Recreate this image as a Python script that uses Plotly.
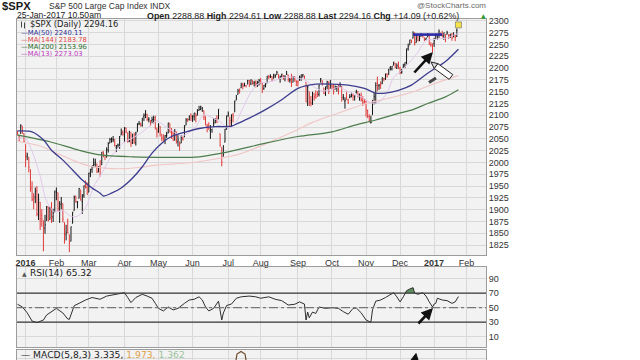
import plotly.graph_objects as go
import pandas as pd

# ------------------------------------------------------------------ data
holidays = ["2015-12-25", "2016-01-01", "2016-01-18", "2016-02-15", "2016-03-25",
            "2016-05-30", "2016-07-04", "2016-09-05", "2016-11-24", "2016-12-26",
            "2017-01-02", "2017-01-16", "2017-02-20"]
dates = [d.strftime("%Y-%m-%d") for d in pd.bdate_range("2015-12-24", "2017-01-25")
         if d.strftime("%Y-%m-%d") not in holidays]

opens = [2063, 2058, 2061, 2077, 2061,
         2038, 2013, 2011, 1985, 1946, 1926, 1927, 1940, 1892, 1916, 1888, 1877, 1861, 1877, 1906, 1879, 1903, 1885, 1895,
         1937, 1936, 1907, 1911, 1913, 1873, 1848, 1857, 1847, 1833, 1871, 1898, 1928, 1916, 1924, 1942, 1917, 1931, 1954, 1947,
         1937, 1976, 1985, 1995, 1996, 1997, 1981, 1991, 1995, 2019, 2015, 2015, 2027, 2041, 2048, 2048, 2049, 2032, 2037, 2035, 2058, 2064,
         2056, 2073, 2063, 2045, 2064, 2045, 2050, 2042, 2065, 2082, 2083, 2078, 2097, 2100, 2102, 2091, 2089, 2089, 2092, 2091, 2071,
         2068, 2077, 2060, 2053, 2047, 2057, 2062, 2083, 2068, 2062, 2047, 2065, 2044, 2044, 2041, 2052, 2054, 2079, 2091, 2091, 2101,
         2093, 2097, 2104, 2100, 2110, 2112, 2115, 2110, 2091, 2077, 2078, 2067, 2070, 2076, 2085, 2089, 2092, 2061, 2032, 2013, 2043, 2073,
         2099, 2096, 2084, 2101, 2107, 2132, 2144, 2156, 2158, 2165, 2163, 2163, 2166, 2173, 2167, 2173, 2168, 2170, 2167, 2169,
         2173, 2169, 2156, 2163, 2168, 2183, 2182, 2182, 2178, 2183, 2186, 2187, 2177, 2181, 2184, 2181, 2187, 2185, 2174, 2175, 2170, 2179, 2173,
         2171, 2177, 2181, 2185, 2183, 2170, 2121, 2150, 2128, 2124, 2146, 2143, 2145, 2144, 2170, 2173, 2158, 2147, 2161, 2169, 2157,
         2164, 2163, 2155, 2158, 2164, 2160, 2161, 2137, 2130, 2139, 2132, 2138, 2140, 2142, 2139, 2149, 2150, 2136, 2142, 2131, 2129,
         2129, 2110, 2098, 2084, 2101, 2129, 2131, 2168, 2163, 2166, 2168, 2177, 2178, 2187, 2186, 2201, 2198, 2206, 2210, 2200, 2205,
         2200, 2191, 2201, 2207, 2211, 2241, 2249, 2259, 2263, 2269, 2254, 2266, 2260, 2267, 2271, 2264, 2261, 2266, 2270, 2250, 2251,
         2252, 2262, 2269, 2272, 2274, 2269, 2268, 2271, 2272, 2269, 2270, 2272, 2269, 2268, 2267, 2289]

highs = [2067, 2058, 2081, 2077, 2062,
         2038, 2021, 2011, 1985, 1960, 1935, 1947, 1950, 1934, 1916, 1901, 1877, 1889, 1908, 1906, 1906, 1916, 1902, 1940,
         1947, 1936, 1918, 1927, 1913, 1873, 1868, 1881, 1847, 1864, 1895, 1930, 1930, 1918, 1946, 1942, 1933, 1951, 1962, 1958,
         1978, 1986, 1993, 2009, 2008, 1997, 1992, 2005, 2022, 2024, 2016, 2032, 2043, 2052, 2053, 2056, 2049, 2037, 2040, 2056, 2072, 2068,
         2075, 2074, 2063, 2067, 2064, 2061, 2063, 2065, 2083, 2088, 2084, 2094, 2104, 2111, 2103, 2096, 2089, 2097, 2099, 2099, 2074,
         2083, 2077, 2060, 2060, 2058, 2065, 2084, 2083, 2073, 2067, 2071, 2065, 2060, 2044, 2058, 2055, 2079, 2094, 2094, 2099, 2104,
         2100, 2105, 2104, 2113, 2120, 2120, 2117, 2110, 2098, 2082, 2085, 2079, 2070, 2094, 2094, 2100, 2113, 2061, 2032, 2036, 2071, 2099,
         2108, 2096, 2102, 2105, 2131, 2143, 2156, 2156, 2169, 2169, 2169, 2164, 2175, 2175, 2176, 2174, 2173, 2174, 2173, 2177,
         2179, 2170, 2164, 2168, 2183, 2185, 2187, 2183, 2188, 2187, 2194, 2187, 2184, 2188, 2185, 2185, 2194, 2186, 2179, 2188, 2183, 2183, 2174,
         2174, 2184, 2186, 2187, 2184, 2170, 2163, 2150, 2141, 2150, 2146, 2153, 2151, 2165, 2179, 2174, 2158, 2161, 2173, 2172, 2175,
         2165, 2166, 2163, 2162, 2165, 2170, 2162, 2145, 2138, 2150, 2135, 2145, 2148, 2147, 2142, 2154, 2151, 2146, 2148, 2141, 2134,
         2131, 2112, 2102, 2099, 2132, 2147, 2170, 2182, 2166, 2172, 2180, 2179, 2188, 2189, 2198, 2204, 2204, 2213, 2211, 2210, 2214,
         2203, 2198, 2209, 2212, 2241, 2252, 2260, 2260, 2278, 2276, 2272, 2268, 2268, 2274, 2272, 2265, 2264, 2274, 2272, 2255, 2252,
         2264, 2273, 2271, 2282, 2275, 2279, 2275, 2271, 2279, 2272, 2272, 2274, 2276, 2271, 2284, 2295]

lows = [2058, 2044, 2061, 2061, 2043,
        1990, 2005, 1979, 1938, 1918, 1901, 1914, 1886, 1878, 1857, 1864, 1812, 1849, 1877, 1875, 1879, 1872, 1874, 1895,
        1920, 1897, 1872, 1901, 1873, 1828, 1835, 1850, 1810, 1833, 1871, 1898, 1915, 1903, 1924, 1919, 1891, 1925, 1945, 1932,
        1937, 1969, 1978, 1990, 1990, 1978, 1979, 1970, 1995, 2011, 2005, 2010, 2021, 2041, 2042, 2043, 2034, 2022, 2031, 2029, 2058, 2057,
        2043, 2062, 2042, 2043, 2033, 2039, 2040, 2036, 2065, 2079, 2076, 2076, 2088, 2094, 2088, 2085, 2077, 2083, 2083, 2070, 2053,
        2063, 2055, 2045, 2045, 2039, 2052, 2062, 2064, 2050, 2046, 2047, 2040, 2034, 2025, 2041, 2047, 2054, 2079, 2086, 2089, 2088,
        2086, 2089, 2085, 2100, 2110, 2111, 2107, 2090, 2079, 2064, 2069, 2050, 2063, 2076, 2083, 2084, 2092, 2033, 1992, 2013, 2043, 2069,
        2097, 2075, 2075, 2085, 2107, 2132, 2144, 2146, 2158, 2155, 2161, 2159, 2166, 2160, 2164, 2165, 2161, 2159, 2160, 2163,
        2166, 2147, 2154, 2159, 2168, 2177, 2179, 2172, 2178, 2179, 2186, 2178, 2169, 2181, 2175, 2172, 2186, 2171, 2169, 2160, 2170, 2171, 2162,
        2161, 2173, 2173, 2180, 2177, 2128, 2120, 2120, 2119, 2122, 2131, 2135, 2139, 2140, 2170, 2163, 2145, 2141, 2155, 2145, 2157,
        2155, 2144, 2155, 2150, 2144, 2160, 2129, 2132, 2114, 2133, 2124, 2136, 2138, 2131, 2131, 2146, 2138, 2131, 2129, 2120, 2125,
        2097, 2094, 2085, 2083, 2101, 2123, 2125, 2151, 2154, 2156, 2166, 2172, 2175, 2180, 2186, 2195, 2195, 2206, 2200, 2198, 2198,
        2187, 2188, 2201, 2200, 2208, 2237, 2249, 2253, 2263, 2248, 2254, 2257, 2257, 2267, 2265, 2257, 2259, 2266, 2249, 2245, 2234,
        2245, 2262, 2260, 2264, 2268, 2265, 2260, 2255, 2271, 2262, 2264, 2258, 2265, 2257, 2266, 2289]

closes = [2061, 2056, 2078, 2063, 2044,
          2012, 2016, 1990, 1943, 1922, 1923, 1938, 1890, 1921, 1880, 1881, 1859, 1868, 1906, 1877, 1903, 1882, 1893, 1940,
          1939, 1903, 1912, 1915, 1880, 1853, 1852, 1851, 1829, 1864, 1895, 1926, 1917, 1917, 1945, 1921, 1929, 1951, 1948, 1932,
          1978, 1986, 1993, 1999, 2001, 1979, 1989, 1989, 2022, 2019, 2015, 2027, 2040, 2049, 2051, 2049, 2036, 2036, 2037, 2055, 2063, 2060,
          2073, 2066, 2045, 2066, 2041, 2047, 2041, 2062, 2082, 2082, 2081, 2094, 2100, 2102, 2091, 2092, 2088, 2091, 2095, 2075, 2065,
          2081, 2064, 2051, 2050, 2057, 2058, 2084, 2064, 2064, 2047, 2066, 2047, 2048, 2040, 2052, 2048, 2076, 2090, 2090, 2099, 2097,
          2099, 2105, 2099, 2110, 2112, 2119, 2116, 2096, 2079, 2075, 2072, 2077, 2071, 2083, 2089, 2085, 2113, 2037, 2001, 2036, 2071, 2099,
          2103, 2089, 2100, 2098, 2130, 2137, 2152, 2152, 2164, 2162, 2166, 2163, 2174, 2165, 2175, 2169, 2170, 2167, 2170, 2174,
          2171, 2157, 2164, 2164, 2183, 2181, 2182, 2175, 2186, 2184, 2191, 2179, 2182, 2187, 2184, 2182, 2187, 2176, 2175, 2169, 2180, 2176, 2171,
          2171, 2180, 2186, 2186, 2182, 2128, 2160, 2127, 2126, 2147, 2139, 2139, 2140, 2164, 2177, 2165, 2146, 2159, 2171, 2151, 2168,
          2161, 2150, 2160, 2160, 2154, 2164, 2137, 2139, 2132, 2133, 2127, 2140, 2144, 2141, 2141, 2151, 2143, 2139, 2133, 2126, 2126,
          2111, 2097, 2088, 2085, 2132, 2140, 2163, 2167, 2164, 2165, 2180, 2177, 2188, 2182, 2198, 2203, 2204, 2213, 2202, 2205, 2199,
          2191, 2192, 2204, 2212, 2241, 2246, 2260, 2256, 2272, 2253, 2262, 2258, 2263, 2271, 2266, 2261, 2264, 2268, 2250, 2249, 2239,
          2258, 2271, 2270, 2277, 2269, 2269, 2275, 2271, 2275, 2268, 2272, 2264, 2271, 2265, 2280, 2294]

assert len(dates) == len(opens) == len(highs) == len(lows) == len(closes), (len(dates), len(opens), len(highs), len(lows), len(closes))

ma50_dates = ["2015-12-24", "2016-01-08", "2016-01-20", "2016-01-27", "2016-02-05", "2016-02-16", "2016-02-24",
              "2016-03-03", "2016-03-10", "2016-03-14", "2016-03-21", "2016-03-30", "2016-04-08", "2016-04-18",
              "2016-04-26", "2016-05-04", "2016-05-12", "2016-05-25", "2016-06-07", "2016-06-21", "2016-07-06",
              "2016-07-12", "2016-07-21", "2016-08-04", "2016-08-18", "2016-09-01", "2016-09-19", "2016-10-03",
              "2016-10-17", "2016-10-31", "2016-11-09", "2016-11-17", "2016-11-30", "2016-12-12", "2016-12-27",
              "2017-01-12", "2017-01-25"]
ma50_vals = [2067, 2065, 2048, 2026, 2005, 1984, 1963, 1946, 1935, 1929, 1935, 1946, 1967, 1991, 2020, 2041,
             2055, 2065, 2072, 2076, 2077, 2083, 2094, 2112, 2133, 2157, 2166, 2166, 2164, 2157, 2147, 2147,
             2153, 2164, 2189, 2214, 2240]

ma144_dates = ["2015-12-24", "2016-01-15", "2016-02-01", "2016-02-16", "2016-03-01", "2016-03-15", "2016-04-01",
               "2016-04-15", "2016-05-02", "2016-05-16", "2016-06-01", "2016-06-15", "2016-07-01", "2016-07-15",
               "2016-08-01", "2016-08-15", "2016-09-01", "2016-09-15", "2016-10-03", "2016-10-17", "2016-11-01",
               "2016-11-15", "2016-12-01", "2016-12-15", "2017-01-03", "2017-01-25"]
ma144_vals = [2045, 2035, 2020, 2005, 1993, 1988, 1987, 1990, 1995, 1997, 2000, 2005, 2012, 2020, 2035, 2050,
              2070, 2085, 2100, 2112, 2125, 2133, 2142, 2152, 2167, 2184]

ma200_dates = ["2015-12-24", "2016-01-26", "2016-02-22", "2016-03-10", "2016-04-08", "2016-05-10", "2016-06-07",
               "2016-07-06", "2016-08-04", "2016-09-01", "2016-10-03", "2016-10-21", "2016-11-09", "2016-11-30",
               "2016-12-12", "2016-12-27", "2017-01-12", "2017-01-25"]
ma200_vals = [2058, 2044, 2026, 2016, 2012, 2011, 2012, 2024, 2041, 2055, 2065, 2079, 2090, 2104, 2111, 2125,
              2139, 2154]

ma13_dates = ["2015-12-24", "2015-12-31", "2016-01-08", "2016-01-15", "2016-01-22", "2016-01-29", "2016-02-05",
              "2016-02-12", "2016-02-19", "2016-02-26", "2016-03-04", "2016-03-11", "2016-03-18", "2016-03-31",
              "2016-04-08", "2016-04-15", "2016-04-22", "2016-04-29", "2016-05-06", "2016-05-13", "2016-05-20",
              "2016-05-27", "2016-06-03", "2016-06-10", "2016-06-17", "2016-06-24", "2016-07-01", "2016-07-08",
              "2016-07-15", "2016-07-22", "2016-07-29", "2016-08-05", "2016-08-12", "2016-08-19", "2016-08-26",
              "2016-09-02", "2016-09-09", "2016-09-16", "2016-09-23", "2016-09-30", "2016-10-07", "2016-10-14",
              "2016-10-21", "2016-10-28", "2016-11-04", "2016-11-11", "2016-11-18", "2016-11-25", "2016-12-02",
              "2016-12-09", "2016-12-16", "2016-12-23", "2016-12-30", "2017-01-06", "2017-01-13", "2017-01-20",
              "2017-01-25"]
ma13_vals = [2048, 2055, 2024, 1971, 1918, 1895, 1898, 1886, 1886, 1904, 1949, 1977, 2008, 2041, 2052, 2062,
             2076, 2088, 2077, 2066, 2056, 2064, 2076, 2101, 2095, 2086, 2072, 2081, 2115, 2149, 2168, 2170,
             2174, 2180, 2181, 2178, 2174, 2160, 2152, 2153, 2160, 2152, 2144, 2138, 2126, 2128, 2148, 2180,
             2195, 2213, 2234, 2259, 2260, 2262, 2264, 2270, 2273]

rsi_dates = ["2015-12-24", "2015-12-30", "2016-01-05", "2016-01-08", "2016-01-13", "2016-01-20", "2016-01-22",
             "2016-01-27", "2016-02-01", "2016-02-05", "2016-02-10", "2016-02-11", "2016-02-12", "2016-02-17",
             "2016-02-22", "2016-02-26", "2016-03-03", "2016-03-10", "2016-03-16", "2016-03-21", "2016-03-29",
             "2016-04-01", "2016-04-05", "2016-04-07", "2016-04-12", "2016-04-18", "2016-04-21", "2016-04-26",
             "2016-04-28", "2016-05-02", "2016-05-05", "2016-05-10", "2016-05-13", "2016-05-18", "2016-05-24",
             "2016-05-27", "2016-06-02", "2016-06-07", "2016-06-09", "2016-06-13", "2016-06-15", "2016-06-20",
             "2016-06-23", "2016-06-24", "2016-06-27", "2016-06-28", "2016-06-30", "2016-07-06", "2016-07-08",
             "2016-07-11", "2016-07-14", "2016-07-21", "2016-07-27", "2016-08-01", "2016-08-08", "2016-08-12",
             "2016-08-18", "2016-08-24", "2016-08-30", "2016-09-02", "2016-09-08", "2016-09-09", "2016-09-12",
             "2016-09-13", "2016-09-15", "2016-09-19", "2016-09-21", "2016-09-27", "2016-10-03", "2016-10-07",
             "2016-10-12", "2016-10-17", "2016-10-20", "2016-10-24", "2016-10-27", "2016-11-01", "2016-11-04",
             "2016-11-07", "2016-11-09", "2016-11-14", "2016-11-17", "2016-11-22", "2016-11-25", "2016-11-29",
             "2016-12-01", "2016-12-05", "2016-12-07", "2016-12-09", "2016-12-13", "2016-12-14", "2016-12-16",
             "2016-12-21", "2016-12-23", "2016-12-28", "2016-12-30", "2017-01-03", "2017-01-04", "2017-01-05",
             "2017-01-10", "2017-01-13", "2017-01-19", "2017-01-23", "2017-01-25"]
rsi_vals = [54.7, 51, 43, 31.6, 29.3, 33, 40, 44.5, 49, 42.7,
            34.4, 34, 41, 52.8, 56, 60.6, 64, 61.6, 66, 67.5,
            69.8, 70.7, 64, 57, 64, 68.5, 66, 63, 56, 49,
            45.5, 51, 47, 49, 56, 60.6, 61.6, 65, 60.6, 51,
            45.5, 49, 59, 44.5, 33, 42.7, 53, 55, 60, 63,
            65, 66, 65, 63, 65, 61.6, 59.7, 53.7, 54.7, 58,
            55, 33, 44, 36, 44, 42, 51, 49, 50, 49,
            44.5, 41, 49, 49.6, 43, 33, 30, 47, 59, 60.6,
            64, 67.5, 70.7, 65, 58, 65, 73.4, 75.8, 77.6, 70,
            68.5, 70.7, 66, 58, 51, 55, 56, 63, 60.6, 59.7,
            56, 58, 65.3]
rsi_ob_dates = ["2016-12-06", "2016-12-07", "2016-12-09", "2016-12-13", "2016-12-14"]
rsi_ob_vals = [70, 73.4, 75.8, 77.6, 70]

res_dates = ["2016-12-13", "2017-01-10"]
res_vals = [2271, 2271]

last_date = ["2017-01-25"]
last_mark = [2291.5]

month_ticks = ["2016-01-04", "2016-02-01", "2016-03-01", "2016-04-01", "2016-05-02", "2016-06-01",
               "2016-07-01", "2016-08-01", "2016-09-01", "2016-10-03", "2016-11-01", "2016-12-01",
               "2017-01-03", "2017-02-01"]
month_labels = ["<b>2016</b>", "Feb", "Mar", "Apr", "May", "Jun", "Jul", "Aug", "Sep", "Oct", "Nov",
                "Dec", "<b>2017</b>", "Feb"]
price_ticks = list(range(1825, 2301, 25))
rsi_ticks = [10, 30, 50, 70, 90]

# ------------------------------------------------------------------ geometry helpers
W, H = 640, 360
L, R, T, B = 17, 154, 19, 0
PW, PH = W - L - R, H - T - B


def px(x):
    return (x - L) / PW


def py(y):
    return (H - B - y) / PH


SANS = "Liberation Sans, Arial, sans-serif"
DJ = "DejaVu Sans, Verdana, sans-serif"
GRID = "#d8d8d8"
BORDER = "#9c9c9c"

fig = go.Figure()

fig.add_trace(go.Scatter(x=ma144_dates, y=ma144_vals, mode="lines", hoverinfo="skip",
                         line=dict(color="#f1c6c6", width=1.1, shape="spline", smoothing=0.8)))
fig.add_trace(go.Scatter(x=ma13_dates, y=ma13_vals, mode="lines", hoverinfo="skip",
                         line=dict(color="#e2c8ec", width=1.0, shape="spline", smoothing=0.8)))
fig.add_trace(go.Scatter(x=ma200_dates, y=ma200_vals, mode="lines", hoverinfo="skip",
                         line=dict(color="#4d7d4d", width=1.2, shape="spline", smoothing=0.8)))
fig.add_trace(go.Scatter(x=ma50_dates, y=ma50_vals, mode="lines", hoverinfo="skip",
                         line=dict(color="#3c3c8e", width=1.3, shape="spline", smoothing=0.8)))
fig.add_trace(go.Scatter(x=last_date, y=last_mark, mode="markers", hoverinfo="skip",
                         marker=dict(symbol="square", size=6, color="#f3e24a",
                                     line=dict(color="#666", width=0.6))))
fig.add_trace(go.Ohlc(x=dates, open=opens, high=highs, low=lows, close=closes,
                      increasing=dict(line=dict(color="#151515", width=1)),
                      decreasing=dict(line=dict(color="#e23a3a", width=1)),
                      tickwidth=0.4, hoverinfo="skip"))
fig.add_trace(go.Scatter(x=res_dates, y=res_vals, mode="lines", hoverinfo="skip",
                         line=dict(color="#2a2aa6", width=2.6)))

# RSI panel
fig.add_trace(go.Scatter(x=rsi_ob_dates, y=rsi_ob_vals, mode="lines", fill="toself",
                         fillcolor="#5e8e5e", line=dict(width=0), hoverinfo="skip",
                         xaxis="x2", yaxis="y2"))
fig.add_trace(go.Scatter(x=rsi_dates, y=rsi_vals, mode="lines", hoverinfo="skip",
                         line=dict(color="#2e2e2e", width=1), xaxis="x2", yaxis="y2"))
# MACD panel (only its top edge is visible)
fig.add_trace(go.Scatter(x=[dates[0]], y=[None], mode="lines", hoverinfo="skip",
                         xaxis="x3", yaxis="y3"))

xr = ["2015-12-23 17:00", "2017-02-17"]
rb = [dict(bounds=["sat", "mon"]), dict(values=holidays)]
axfont = dict(family=SANS, size=9, color="#333333")
xcommon = dict(range=xr, rangebreaks=rb, tickvals=month_ticks, showgrid=True, gridcolor=GRID,
               gridwidth=1, showline=True, linecolor=BORDER, linewidth=1, mirror=True,
               zeroline=False, ticks="", fixedrange=True)
ycommon = dict(side="right", showgrid=True, gridcolor=GRID, gridwidth=1, showline=True,
               linecolor=BORDER, linewidth=1, mirror=True, zeroline=False, ticks="",
               tickfont=axfont, fixedrange=True)

fig.update_layout(
    width=W, height=H, autosize=False, showlegend=False,
    margin=dict(l=L, r=R, t=T, b=B, pad=0),
    paper_bgcolor="#ffffff", plot_bgcolor="#f2f2f2",
    xaxis=dict(**xcommon, domain=[0, 1], anchor="y", ticktext=month_labels, tickfont=axfont,
               showticklabels=True, ticklabelstandoff=-1, rangeslider=dict(visible=False)),
    xaxis2=dict(**xcommon, domain=[0, 1], anchor="y2", matches="x", showticklabels=False),
    xaxis3=dict(**xcommon, domain=[0, 1], anchor="y3", matches="x", showticklabels=False),
    yaxis=dict(**ycommon, domain=[py(255), 1], range=[1804, 2304], tickvals=price_ticks),
    yaxis2=dict(**ycommon, domain=[py(347), py(267)], range=[-4.2, 106.1], tickvals=rsi_ticks),
    yaxis3=dict(**ycommon, domain=[0, py(350)], range=[9.5, 12], tickvals=[10]),
)

shapes = [
    dict(type="line", xref="x2 domain", x0=0, x1=1, yref="y2", y0=70, y1=70,
         line=dict(color="#3a3a3a", width=1.2)),
    dict(type="line", xref="x2 domain", x0=0, x1=1, yref="y2", y0=30, y1=30,
         line=dict(color="#3a3a3a", width=1.2)),
    dict(type="line", xref="x2 domain", x0=0, x1=1, yref="y2", y0=50, y1=50,
         line=dict(color="#777777", width=1.2, dash="dashdot")),
    # tiny chart-type icon before "$SPX (Daily)"
    dict(type="line", xref="paper", yref="paper", x0=px(21.5), x1=px(21.5), y0=py(21.5), y1=py(27.5),
         line=dict(color="#444444", width=1)),
    dict(type="line", xref="paper", yref="paper", x0=px(24.5), x1=px(24.5), y0=py(22.5), y1=py(28.5),
         line=dict(color="#444444", width=1)),
    # pencil cursor overlay
    dict(type="path", xref="paper", yref="paper", layer="above",
         path=f"M {px(437.8)},{py(63.6)} L {px(452.8)},{py(74.6)} L {px(449.2)},{py(79.4)} "
              f"L {px(434.2)},{py(68.4)} Z",
         fillcolor="#ffffff", line=dict(color="#222222", width=1)),
    dict(type="path", xref="paper", yref="paper", layer="above",
         path=f"M {px(437.8)},{py(63.6)} L {px(431)},{py(62)} L {px(434.2)},{py(68.4)} Z",
         fillcolor="#dddddd", line=dict(color="#222222", width=1)),
    dict(type="line", xref="paper", yref="paper", layer="above",
         x0=px(429), y0=py(82.5), x1=px(436), y1=py(78), line=dict(color="#444444", width=3)),
    # small drawings peeking into the MACD panel
    dict(type="path", xref="paper", yref="paper", layer="above",
         path=f"M {px(236)},{py(360)} L {px(237)},{py(354)} L {px(241)},{py(351.5)} "
              f"L {px(245)},{py(354)} L {px(246)},{py(360)}",
         fillcolor="rgba(0,0,0,0)", line=dict(color="#6b4a2a", width=1.2)),
    dict(type="path", xref="paper", yref="paper", layer="above",
         path=f"M {px(411)},{py(360)} L {px(416)},{py(353.5)} L {px(418)},{py(360)} Z",
         fillcolor="#111111", line=dict(color="#111111", width=1)),
]
fig.update_layout(shapes=shapes)


def txt(s, x, y, size, color="#222222", family=SANS, anchor="left"):
    return dict(text=s, x=px(x), y=py(y), xref="paper", yref="paper", xanchor=anchor,
                yanchor="middle", showarrow=False, borderpad=0,
                font=dict(family=family, size=size, color=color))


ann = [
    txt("<b>$SPX</b>", 1, 6.2, 11.2, "#1a1a1a"),
    txt("S&P 500 Large Cap Index INDX", 48, 6.0, 8.5, "#333333"),
    txt("@StockCharts.com", 487, 5.6, 8, "#6a6a6a", anchor="right"),
    txt("25-Jan-2017 10.50am", 16, 15.3, 8.6, "#222222"),
    txt("<b>Open</b> 2288.88 <b>High</b> 2294.61 <b>Low</b> 2288.88 <b>Last</b> 2294.16 "
        "<b>Chg</b> +14.09 (+0.62%)", 146, 15.5, 8.9, "#222222"),
    txt("▲", 480, 15.3, 6, "#2e9a2e", family=DJ),
    txt("$SPX (Daily) 2294.16", 29, 24.4, 8.3, "#222222", family=DJ),
    txt("—MA(50) 2240.11", 20, 32.6, 6.8, "#333399", family=DJ),
    txt("—MA(144) 2183.78", 20, 39.9, 6.8, "#e04a4a", family=DJ),
    txt("—MA(200) 2153.96", 20, 47.1, 6.8, "#2e6e2e", family=DJ),
    txt("—MA(13) 2273.03", 20, 54.3, 6.8, "#c040c0", family=DJ),
    txt("▲", 20.5, 273, 6, "#555555", family=DJ),
    txt("RSI(14) 65.32", 29, 273, 9, "#222222", family=DJ),
    txt("— MACD(5,8,3) 3.335, <span style='color:#e0a048'>1.973,</span> "
        "<span style='color:#9cc29c'>1.362</span>", 20, 354, 9.2, "#222222", family=DJ),
    dict(x=px(433), y=py(52), xref="paper", yref="paper", text="", showarrow=True,
         ax=-20, ay=22, arrowhead=2, arrowsize=0.9, arrowwidth=2.6, arrowcolor="#111111"),
    dict(x=px(433), y=py(308), xref="paper", yref="paper", text="", showarrow=True,
         ax=-16, ay=17, arrowhead=2, arrowsize=0.9, arrowwidth=2.6, arrowcolor="#111111"),
]
fig.update_layout(annotations=ann)

fig.write_html("out.html")
